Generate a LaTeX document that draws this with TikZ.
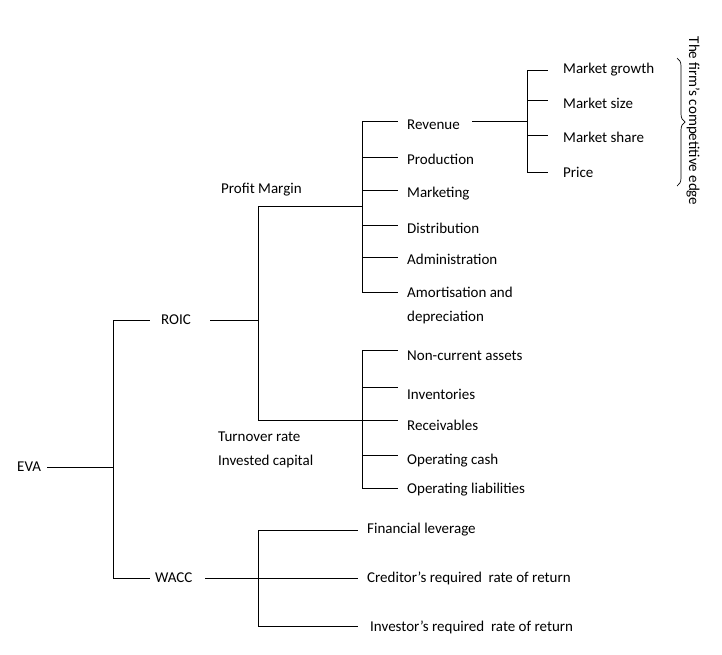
\documentclass[tikz,border=0pt]{standalone}
\usepackage{fontspec}
\setmainfont{Carlito}
\usetikzlibrary{decorations.pathreplacing}
\begin{document}
\begin{tikzpicture}[x=1pt,y=-1pt,
  lab/.style={anchor=west,inner sep=0pt,font=\fontsize{15}{18}\selectfont},
  ln/.style={line width=0.7pt}]
\useasboundingbox (0,0) rectangle (722,654);
\node[lab] (eva) at (17,467) {EVA};
\node[lab] (roic) at (161,320) {ROIC};
\node[lab] (wacc) at (155,578) {WACC};
\node[lab] (pm) at (221,190) {Profit Margin};
\node[lab,align=left,font=\fontsize{15}{24}\selectfont] (tr) at (218,450) {Turnover rate\\Invested capital};
\foreach \n/\y/\t in {rev/125/Revenue,prod/159/Production,mkt/194/Marketing,dist/228/Distribution,adm/259/Administration,nca/356/Non-current assets,inv/394/Inventories,rec/425/Receivables,oc/461/Operating cash,ol/490/Operating liabilities}
  \node[lab] (\n) at (407,\y) {\t};
\node[lab,align=left,font=\fontsize{15}{24}\selectfont] (amo) at (407,305) {Amortisation and\\depreciation};
\foreach \n/\y/\t in {mg/70/Market growth,ms/103/Market size,msh/137/Market share,pr/172/Price}
  \node[lab] (\n) at (563,\y) {\t};
\node[lab] (fl) at (367,530) {Financial leverage};
\node[lab] (cr) at (367,578) {Creditor’s required\ \ rate of return};
\node[lab] (ir) at (370,627) {Investor’s required\ \ rate of return};
% EVA tree
\coordinate (j1) at (113,467);
\draw[ln] (eva.east)++(6,0) -- (j1);
\draw[ln] (113,320) -- (113,578);
\draw[ln] (113,320) -- (150,320);
\draw[ln] (113,578) -- (150,578);
% ROIC
\draw[ln] (210,320) -- (258,320);
\draw[ln] (258,206) -- (258,420);
\draw[ln] (258,206) -- (362,206);
\draw[ln] (258,420) -- (362,420);
\draw[ln] (362,121) -- (362,292);
\foreach \y in {121,157,190,225,257,292} \draw[ln] (362,\y) -- (398,\y);
\draw[ln] (362,350) -- (362,488);
\foreach \y in {350,387,420,455,488} \draw[ln] (362,\y) -- (398,\y);
% Revenue
\draw[ln] (472,121) -- (527,121);
\draw[ln] (527,70) -- (527,172);
\foreach \y in {70,100,135,172} \draw[ln] (527,\y) -- (548,\y);
% WACC
\draw[ln] (205,578) -- (358,578);
\draw[ln] (258,530) -- (258,626);
\draw[ln] (258,530) -- (358,530);
\draw[ln] (258,626) -- (358,626);
% brace
\draw[ln,decorate,decoration={brace,amplitude=8pt}] (677,58) -- (677,186);
\node[rotate=-90,inner sep=0pt,font=\fontsize{15}{18}\selectfont] (edge) at (693,121) {The firm’s competitive edge};
\end{tikzpicture}
\end{document}
